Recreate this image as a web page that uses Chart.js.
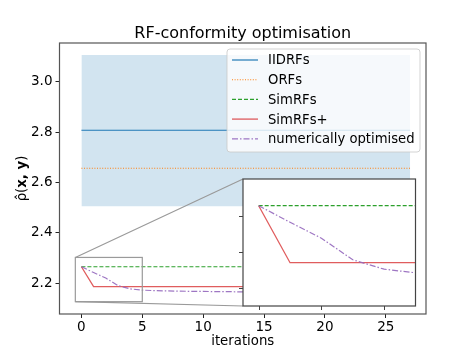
<!DOCTYPE html>
<html>
<head>
<meta charset="utf-8">
<script src="https://cdn.jsdelivr.net/npm/chart.js@4.4.1/dist/chart.umd.min.js"></script>
<style>
    body { margin: 0; background: #fff; }
    #wrap { position: relative; width: 474px; height: 353px; }
    #main { position: absolute; left: 0; top: 0; }
    #inset { position: absolute; left: 237px; top: 178px; }
</style>
</head>
<body>
<div id="wrap">
    <canvas id="main" width="474" height="353"></canvas>
    <canvas id="inset" width="180" height="134"></canvas>
</div>
<script>
const iterations = [0, 1, 2, 3, 4, 5, 6, 7, 8, 9, 10, 11, 12, 13, 14, 15, 16, 17, 18, 19, 20, 21, 22, 23, 24, 25, 26, 27];
const bandUpper = [3.107, 3.107, 3.107, 3.107, 3.107, 3.107, 3.107, 3.107, 3.107, 3.107, 3.107, 3.107, 3.107, 3.107, 3.107, 3.107, 3.107, 3.107, 3.107, 3.107, 3.107, 3.107, 3.107, 3.107, 3.107, 3.107, 3.107, 3.107];
const bandLower = [2.506, 2.506, 2.506, 2.506, 2.506, 2.506, 2.506, 2.506, 2.506, 2.506, 2.506, 2.506, 2.506, 2.506, 2.506, 2.506, 2.506, 2.506, 2.506, 2.506, 2.506, 2.506, 2.506, 2.506, 2.506, 2.506, 2.506, 2.506];
const iidrfs = [2.808, 2.808, 2.808, 2.808, 2.808, 2.808, 2.808, 2.808, 2.808, 2.808, 2.808, 2.808, 2.808, 2.808, 2.808, 2.808, 2.808, 2.808, 2.808, 2.808, 2.808, 2.808, 2.808, 2.808, 2.808, 2.808, 2.808, 2.808];
const orfs = [2.657, 2.657, 2.657, 2.657, 2.657, 2.657, 2.657, 2.657, 2.657, 2.657, 2.657, 2.657, 2.657, 2.657, 2.657, 2.657, 2.657, 2.657, 2.657, 2.657, 2.657, 2.657, 2.657, 2.657, 2.657, 2.657, 2.657, 2.657];
const simrfs = [2.265, 2.265, 2.265, 2.265, 2.265, 2.265, 2.265, 2.265, 2.265, 2.265, 2.265, 2.265, 2.265, 2.265, 2.265, 2.265, 2.265, 2.265, 2.265, 2.265, 2.265, 2.265, 2.265, 2.265, 2.265, 2.265, 2.265, 2.265];
const simrfsPlus = [2.265, 2.186, 2.186, 2.186, 2.186, 2.186, 2.186, 2.186, 2.186, 2.186, 2.186, 2.186, 2.186, 2.186, 2.186, 2.186, 2.186, 2.186, 2.186, 2.186, 2.186, 2.186, 2.186, 2.186, 2.186, 2.186, 2.186, 2.186];
const numOpt = [2.265, 2.242, 2.220, 2.190, 2.177, 2.172, 2.170, 2.169, 2.168, 2.167, 2.167, 2.166, 2.166, 2.165, 2.165, 2.165, 2.165, 2.164, 2.164, 2.164, 2.164, 2.164, 2.164, 2.164, 2.164, 2.164, 2.164, 2.164];

const seriesLabels = ['IIDRFs', 'ORFs', 'SimRFs', 'SimRFs+', 'numerically optimised'];
const xTicks = [0, 5, 10, 15, 20, 25];
const yTicks = [2.2, 2.4, 2.6, 2.8, 3.0];
const insetXTicks = [0, 2, 4];
const insetYTicks = [2.15, 2.2, 2.25];
const zoomBox = { x0: -0.5, x1: 5, y0: 2.126, y1: 2.302 };

const FONT = "'DejaVu Sans', sans-serif";
const insetOffset = { left: 237, top: 178 }; // where the inset canvas sits on the page

function pts(ys) {
    return ys.map((y, i) => ({ x: iterations[i], y: y }));
}

function lineSets() {
    return [
        { label: seriesLabels[0], data: pts(iidrfs), borderColor: '#1f77b4', borderWidth: 1.2, borderDash: [], order: 5 },
        { label: seriesLabels[1], data: pts(orfs), borderColor: '#ff7f0e', borderWidth: 1.1, borderDash: [1, 1.6], order: 4 },
        { label: seriesLabels[2], data: pts(simrfs), borderColor: '#2ca02c', borderWidth: 1.2, borderDash: [4, 2], order: 3 },
        { label: seriesLabels[3], data: pts(simrfsPlus), borderColor: 'rgba(214,39,40,0.75)', borderWidth: 1.3, borderDash: [], order: 2 },
        { label: seriesLabels[4], data: pts(numOpt), borderColor: 'rgba(148,103,189,0.9)', borderWidth: 1.2, borderDash: [6, 2, 1.5, 2], order: 1 }
    ].map(d => Object.assign(d, { pointRadius: 0, fill: false, tension: 0, showInLegend: true }));
}

const bandSets = [
    { label: 'band', data: pts(bandUpper), borderWidth: 0, pointRadius: 0, backgroundColor: 'rgba(31,119,180,0.2)', fill: '+1', order: 10 },
    { label: 'band2', data: pts(bandLower), borderWidth: 0, pointRadius: 0, backgroundColor: 'rgba(31,119,180,0.2)', fill: false, order: 10 }
];

function drawFrame(ctx, a, color) {
    ctx.save();
    ctx.setLineDash([]);
    ctx.strokeStyle = color;
    ctx.lineWidth = 1.2;
    ctx.strokeRect(a.left, a.top, a.right - a.left, a.bottom - a.top);
    ctx.restore();
}

const insetDecor = {
    id: 'insetDecor',
    beforeDraw(chart) {
        const { ctx, chartArea: a } = chart;
        ctx.save();
        ctx.fillStyle = '#fff';
        ctx.fillRect(a.left, a.top, a.right - a.left, a.bottom - a.top);
        ctx.restore();
    },
    afterDraw(chart) {
        drawFrame(chart.ctx, chart.chartArea, '#444');
    }
};

const insetChart = new Chart(document.getElementById('inset'), {
    type: 'line',
    data: { datasets: lineSets() },
    options: {
        responsive: false,
        animation: false,
        devicePixelRatio: 1,
        layout: { padding: { left: 0, right: 1.5, top: 1, bottom: 0 } },
        plugins: { legend: { display: false }, tooltip: { enabled: false } },
        scales: {
            x: {
                type: 'linear', min: zoomBox.x0, max: zoomBox.x1,
                afterBuildTicks: s => { s.ticks = insetXTicks.map(v => ({ value: v })); },
                afterFit: s => { s.height = 6; },
                border: { display: false },
                grid: { display: false },
                ticks: { display: false }
            },
            y: {
                type: 'linear', min: zoomBox.y0, max: zoomBox.y1,
                afterBuildTicks: s => { s.ticks = insetYTicks.map(v => ({ value: v })); },
                afterFit: s => { s.width = 6; },
                border: { display: false },
                grid: { drawOnChartArea: false, drawTicks: true, tickLength: 4, color: '#444' },
                ticks: { display: false }
            }
        }
    },
    plugins: [insetDecor]
});

const decorPlugin = {
    id: 'decor',
    afterDraw(chart) {
        const { ctx, chartArea: a, scales } = chart;
        const x = scales.x, y = scales.y;
        drawFrame(ctx, a, '#555');
        ctx.save();

        // inset geometry on the page, from the inset chart's own scales
        const ia = insetChart.chartArea;
        const ix = insetChart.scales.x;
        const inLeft = insetOffset.left + ia.left, inTop = insetOffset.top + ia.top, inBottom = insetOffset.top + ia.bottom;

        // inset x tick marks (just under the inset frame)
        ctx.strokeStyle = '#444';
        ctx.lineWidth = 1;
        ctx.beginPath();
        insetXTicks.forEach(v => {
            const px = Math.round(insetOffset.left + ix.getPixelForValue(v)) + 0.5;
            ctx.moveTo(px, inBottom);
            ctx.lineTo(px, inBottom + 4);
        });
        ctx.stroke();

        // zoom rectangle and connectors
        const rx0 = x.getPixelForValue(zoomBox.x0), rx1 = x.getPixelForValue(zoomBox.x1);
        const ry0 = y.getPixelForValue(zoomBox.y1), ry1 = y.getPixelForValue(zoomBox.y0);
        ctx.strokeStyle = '#9a9a9a';
        ctx.lineWidth = 1.2;
        ctx.strokeRect(rx0, ry0, rx1 - rx0, ry1 - ry0);
        ctx.beginPath();
        ctx.moveTo(rx0, ry0); ctx.lineTo(inLeft, inTop);
        ctx.moveTo(rx0, ry1); ctx.lineTo(inLeft, inBottom);
        ctx.stroke();

        // legend
        const lx = 227, ly = 49, lw = 193, lh = 103;
        ctx.beginPath();
        ctx.roundRect(lx, ly, lw, lh, 3);
        ctx.fillStyle = 'rgba(255,255,255,0.8)';
        ctx.fill();
        ctx.strokeStyle = 'rgba(200,200,200,0.8)';
        ctx.lineWidth = 1;
        ctx.stroke();
        ctx.font = '13.2px ' + FONT;
        ctx.textBaseline = 'middle';
        ctx.textAlign = 'left';
        chart.data.datasets.filter(d => d.showInLegend).forEach((d, i) => {
            const cy = ly + 11 + i * 19.7;
            ctx.beginPath();
            ctx.setLineDash(d.borderDash);
            ctx.strokeStyle = d.borderColor;
            ctx.lineWidth = d.borderWidth;
            ctx.moveTo(232, cy); ctx.lineTo(258, cy);
            ctx.stroke();
            ctx.setLineDash([]);
            ctx.fillStyle = '#000';
            ctx.fillText(d.label, 268, cy + 1);
        });

        // title and axis labels
        ctx.fillStyle = '#000';
        ctx.textAlign = 'center';
        ctx.textBaseline = 'alphabetic';
        ctx.font = '16px ' + FONT;
        ctx.fillText('RF-conformity optimisation', (a.left + a.right) / 2, 38);
        ctx.font = '13.3px ' + FONT;
        ctx.fillText('iterations', (a.left + a.right) / 2, 345);

        // y label: rho-hat(x, y) with bold x, y
        ctx.translate(26, (a.top + a.bottom) / 2);
        ctx.rotate(-Math.PI / 2);
        const parts = [['ρ̂(', '13.3px ' + FONT], ['x, y', 'bold 13.3px ' + FONT], [')', '13.3px ' + FONT]];
        let total = 0;
        parts.forEach(p => { ctx.font = p[1]; total += ctx.measureText(p[0]).width; });
        let px = -total / 2;
        ctx.textAlign = 'left';
        parts.forEach(p => {
            ctx.font = p[1];
            ctx.fillText(p[0], px, 0);
            px += ctx.measureText(p[0]).width;
        });
        ctx.restore();
    }
};

const mainChart = new Chart(document.getElementById('main'), {
    type: 'line',
    data: { datasets: bandSets.concat(lineSets()) },
    options: {
        responsive: false,
        animation: false,
        devicePixelRatio: 1,
        layout: { padding: { left: 0, right: 48, top: 43, bottom: 0 } },
        plugins: { legend: { display: false }, tooltip: { enabled: false } },
        scales: {
            x: {
                type: 'linear', min: -1.8, max: 28.3,
                afterBuildTicks: s => { s.ticks = xTicks.map(v => ({ value: v })); },
                afterFit: s => { s.height = 39; },
                border: { display: false },
                grid: { drawOnChartArea: false, drawTicks: true, tickLength: 4, color: '#222' },
                ticks: { color: '#000', font: { family: FONT, size: 13.5 }, padding: 1, maxRotation: 0 }
            },
            y: {
                type: 'linear', min: 2.077, max: 3.155,
                afterBuildTicks: s => { s.ticks = yTicks.map(v => ({ value: v })); },
                afterFit: s => { s.width = 59.5; },
                border: { display: false },
                grid: { drawOnChartArea: false, drawTicks: true, tickLength: 4, color: '#222' },
                ticks: { color: '#000', font: { family: FONT, size: 13.5 }, padding: 3, callback: v => v.toFixed(1) }
            }
        }
    },
    plugins: [decorPlugin]
});
</script>
</body>
</html>
